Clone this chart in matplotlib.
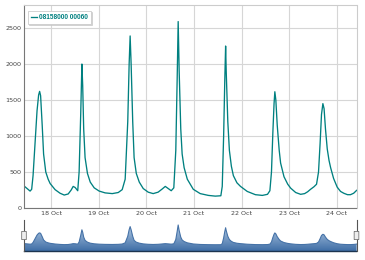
import numpy as np
import pandas as pd
import matplotlib
matplotlib.use("Agg")
import matplotlib.pyplot as plt
import matplotlib.dates as mdates
from matplotlib.colors import LinearSegmentedColormap
from matplotlib.patches import FancyBboxPatch

# hours after 17 Oct 00:00, and discharge
hours = [10.4, 11.9, 13.4, 14.2, 14.9, 15.9, 16.9, 17.7, 18.2, 18.7, 19.5, 20.2,
         21.3, 22.5, 23.5, 26.0, 28.5, 30.6, 32.6, 34.1, 35.1, 36.1, 37.4, 38.1,
         38.9, 39.5, 39.9, 40.4, 41.1, 42.3, 43.7, 45.7, 48.2, 51.2, 54.8, 57.8,
         59.8, 61.3, 62.6, 63.3, 63.8, 64.3, 65.1, 65.8, 66.9, 68.4, 70.4, 72.9,
         75.4, 77.9, 80.0, 81.5, 83.0, 84.5, 85.8, 86.8, 87.5, 88.0, 88.5, 89.3,
         90.0, 91.0, 92.6, 95.6, 99.1, 103.2, 106.7, 109.5, 110.2, 110.9, 111.5,
         111.9, 112.2, 113.0, 113.8, 114.8, 115.8, 117.6, 119.4, 122.8, 126.9,
         130.4, 133.0, 134.2, 135.0, 135.7, 136.3, 136.7, 137.2, 137.9, 138.9,
         139.6, 141.3, 143.2, 144.7, 147.2, 149.7, 151.7, 153.2, 154.7, 156.4,
         157.7, 158.7, 159.5, 160.2, 160.9, 161.5, 162.2, 163.1, 164.0, 164.8,
         166.3, 168.1, 169.8, 171.5, 173.3, 174.8, 176.4, 177.9]
flow = [305, 270, 235, 260, 450, 900, 1350, 1570, 1620, 1560, 1150, 750,
        500, 400, 340, 255, 205, 180, 195, 250, 300, 285, 240, 500,
        1300, 2000, 1700, 1100, 700, 480, 360, 280, 235, 210, 200, 215,
        255, 400, 1200, 2000, 2390, 2000, 1200, 700, 480, 360, 270, 220,
        200, 220, 265, 300, 270, 240, 280, 800, 1800, 2590, 1900, 1100,
        750, 560, 400, 260, 200, 175, 165, 170, 300, 1000, 1800,
        2250, 1900, 1200, 800, 580, 450, 350, 300, 230, 185,
        175, 190, 240, 500, 1050, 1450, 1615, 1500, 1150, 800,
        625, 435, 330, 275, 215, 190, 200, 225, 260, 295,
        330, 500, 900, 1300, 1450, 1380, 1100, 820, 660, 560,
        410, 290, 230, 204, 185, 185, 205, 245]
series_name = "08158000 00060"
y_ticks = [0, 500, 1000, 1500, 2000, 2500]

times = pd.Timestamp("2015-10-17") + pd.to_timedelta(hours, unit="h")
t0 = pd.Timestamp("2015-10-17 10:20")
t1 = pd.Timestamp("2015-10-24 09:50")

plt.rcParams['font.family'] = 'DejaVu Sans'
fig = plt.figure(figsize=(3.65, 2.6), dpi=100)

# main chart
ax = fig.add_axes([24/365, 52/260, 332.5/365, 203/260])
ax.plot(times, flow, color='#008080', lw=0.95, label=series_name)
ax.set_xlim(t0, t1)
ax.set_ylim(0, 2820)
ax.set_yticks(y_ticks)
ax.xaxis.set_major_locator(mdates.DayLocator())
ax.xaxis.set_major_formatter(mdates.DateFormatter('%d %b'))
ax.grid(True, color='#d6d6d6', lw=0.8)
ax.set_axisbelow(True)
ax.tick_params(length=0, labelsize=4.6, colors='#444444', pad=2)
for s in ['top', 'right']:
    ax.spines[s].set_color('#cccccc')
    ax.spines[s].set_linewidth(0.8)
for s in ['left', 'bottom']:
    ax.spines[s].set_color('#777777')
    ax.spines[s].set_linewidth(0.8)

leg = ax.legend(loc='upper left', bbox_to_anchor=(0.012, 0.97), frameon=True,
                fancybox=False, edgecolor='#cccccc', handlelength=1.0,
                handletextpad=0.3, borderpad=0.45, borderaxespad=0,
                labelcolor='#008080',
                prop={'family': 'Liberation Sans', 'weight': 'bold', 'size': 4.7},
                shadow={'ox': 0.8, 'oy': -0.8, 'color': '#c8c8c8', 'alpha': 0.8})
leg.get_frame().set_linewidth(0.6)

# navigator
nav = fig.add_axes([24/365, 9/260, 332.5/365, 31/260])
nav_lo, nav_hi = -600, 3200
nav.set_xlim(t0, t1)
nav.set_ylim(nav_lo, nav_hi)
cmap = LinearSegmentedColormap.from_list('nav', ['#3f6ea6', '#bcd2ea'])
grad = np.linspace(0, 1, 100).reshape(-1, 1)
x0n, x1n = mdates.date2num(t0), mdates.date2num(t1)
im = nav.imshow(grad, cmap=cmap, origin='lower', aspect='auto',
                extent=[x0n, x1n, nav_lo, 2800], zorder=1)
poly = nav.fill_between(times, flow, nav_lo, color='none', lw=0)
im.set_clip_path(poly.get_paths()[0], transform=nav.transData)
nav.plot(times, flow, color='#4572a7', lw=0.8, zorder=2)
nav.set_xticks([])
nav.set_yticks([])
for s in ['top', 'right', 'left']:
    nav.spines[s].set_visible(False)
nav.spines['bottom'].set_color('#1c3550')
nav.spines['bottom'].set_linewidth(1.0)
for xs in [0, 1]:
    nav.plot([xs, xs], [0, 1], transform=nav.transAxes, color='#555555',
             lw=0.8, clip_on=False, zorder=3)
    nav.add_patch(FancyBboxPatch((xs - 0.005, 0.37), 0.01, 0.26,
                                 boxstyle='round,pad=0.002',
                                 transform=nav.transAxes, clip_on=False,
                                 facecolor='#eeeeee', edgecolor='#777777',
                                 lw=0.6, zorder=4))

fig.savefig('out.png', dpi=100)
